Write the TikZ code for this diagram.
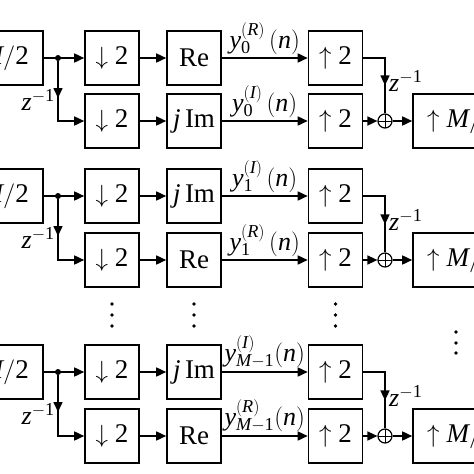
\documentclass[tikz,border=0pt]{standalone}
\usepackage{mathspec}
\setmainfont{Liberation Serif}
\setmathsfont(Digits,Latin){Liberation Serif}
\usetikzlibrary{arrows.meta,positioning,calc}

\begin{document}
\begin{tikzpicture}[x=1pt, y=-1pt,
    block/.style={rectangle, draw, line width=1.6pt, minimum width=54pt, minimum height=54pt, inner sep=0pt, font=\fontsize{27}{30}\selectfont},
    wideblock/.style={block, minimum width=96pt},
    outblock/.style={block, minimum width=96pt},
    adder/.style={circle, draw, line width=1.2pt, minimum size=14pt, inner sep=0pt,
        path picture={\draw[line width=1pt] (path picture bounding box.north) -- (path picture bounding box.south)
                      (path picture bounding box.west) -- (path picture bounding box.east);}},
    arrow/.style={line width=1.6pt, -{Triangle[length=10pt,width=9pt]}},
    wire/.style={line width=1.6pt},
    sig/.style={font=\fontsize{26}{30}\selectfont, inner sep=1pt},
    fork/.style={circle, fill, inner sep=0pt, minimum size=6pt}
]
\useasboundingbox (0,0) rectangle (474,474);
\clip (0,0) rectangle (474,474);

% Branch 0
\node[wideblock] (split0) at (-5,58) {$\downarrow M/2$};
\node[fork] (fork0) at (58,58) {};
\node[block] (down0a) at (112,58) {$\downarrow 2$};
\node[block] (down0b) at (112,121) {$\downarrow 2$};
\node[block] (part0a) at (194,58) {Re};
\node[block] (part0b) at (194,121) {$j$\,Im};
\node[block] (up0a) at (335.5,58) {$\uparrow 2$};
\node[block] (up0b) at (335.5,121) {$\uparrow 2$};
\node[adder] (sum0) at (385,121) {};
\node[outblock] (out0) at (461,121) {$\uparrow M/2$};

% Branch 1
\node[wideblock] (split1) at (-5,196) {$\downarrow M/2$};
\node[fork] (fork1) at (58,196) {};
\node[block] (down1a) at (112,196) {$\downarrow 2$};
\node[block] (down1b) at (112,260) {$\downarrow 2$};
\node[block] (part1a) at (194,196) {$j$\,Im};
\node[block] (part1b) at (194,260) {Re};
\node[block] (up1a) at (335.5,196) {$\uparrow 2$};
\node[block] (up1b) at (335.5,260) {$\uparrow 2$};
\node[adder] (sum1) at (385,260) {};
\node[outblock] (out1) at (461,260) {$\uparrow M/2$};

% Branch M-1
\node[wideblock] (split2) at (-5,372) {$\downarrow M/2$};
\node[fork] (fork2) at (58,372) {};
\node[block] (down2a) at (112,372) {$\downarrow 2$};
\node[block] (down2b) at (112,436) {$\downarrow 2$};
\node[block] (part2a) at (194,372) {$j$\,Im};
\node[block] (part2b) at (194,436) {Re};
\node[block] (up2a) at (335.5,372) {$\uparrow 2$};
\node[block] (up2b) at (335.5,436) {$\uparrow 2$};
\node[adder] (sum2) at (385,436) {};
\node[outblock] (out2) at (461,436) {$\uparrow M/2$};

% Polyphase split with delay
\draw[arrow] (split0) -- (down0a);
\draw[arrow] (fork0) |- (down0b);
\draw[arrow] (fork0) -- ++(0,40);
\node[sig, anchor=east] (zin0) at ($(fork0)+(-2,42)$) {$z^{-1}$};
\draw[arrow] (split1) -- (down1a);
\draw[arrow] (fork1) |- (down1b);
\draw[arrow] (fork1) -- ++(0,40);
\node[sig, anchor=east] (zin1) at ($(fork1)+(-2,42)$) {$z^{-1}$};
\draw[arrow] (split2) -- (down2a);
\draw[arrow] (fork2) |- (down2b);
\draw[arrow] (fork2) -- ++(0,40);
\node[sig, anchor=east] (zin2) at ($(fork2)+(-2,42)$) {$z^{-1}$};

% Real and imaginary parts
\draw[arrow] (down0a) -- (part0a);
\draw[arrow] (down0b) -- (part0b);
\draw[arrow] (part0a) -- node[sig, above=2pt] (y0a) {$y_0^{(R)}\,(n)$} (up0a);
\draw[arrow] (part0b) -- node[sig, above=2pt] (y0b) {$y_0^{(I)}\,(n)$} (up0b);
\draw[arrow] (down1a) -- (part1a);
\draw[arrow] (down1b) -- (part1b);
\draw[arrow] (part1a) -- node[sig, above=2pt] (y1a) {$y_1^{(I)}\,(n)$} (up1a);
\draw[arrow] (part1b) -- node[sig, above=2pt] (y1b) {$y_1^{(R)}\,(n)$} (up1b);
\draw[arrow] (down2a) -- (part2a);
\draw[arrow] (down2b) -- (part2b);
\draw[arrow] (part2a) -- node[sig, above=2pt] (y2a) {$y_{M-1}^{(I)}(n)$} (up2a);
\draw[arrow] (part2b) -- node[sig, above=2pt] (y2b) {$y_{M-1}^{(R)}(n)$} (up2b);

% Recombination
\draw[arrow] (up0a.east) -| ($(sum0.north)+(0,-28)$);
\draw[wire] (up0a.east -| sum0) -- (sum0.north);
\node[sig, anchor=west] (zout0) at ($(sum0.north)+(3,-32)$) {$z^{-1}$};
\draw[arrow] (up0b) -- (sum0);
\draw[arrow] (sum0) -- (out0);
\draw[arrow] (up1a.east) -| ($(sum1.north)+(0,-28)$);
\draw[wire] (up1a.east -| sum1) -- (sum1.north);
\node[sig, anchor=west] (zout1) at ($(sum1.north)+(3,-32)$) {$z^{-1}$};
\draw[arrow] (up1b) -- (sum1);
\draw[arrow] (sum1) -- (out1);
\draw[arrow] (up2a.east) -| ($(sum2.north)+(0,-28)$);
\draw[wire] (up2a.east -| sum2) -- (sum2.north);
\node[sig, anchor=west] (zout2) at ($(sum2.north)+(3,-32)$) {$z^{-1}$};
\draw[arrow] (up2b) -- (sum2);
\draw[arrow] (sum2) -- (out2);

% Vertical dots
\foreach \x in {112,194,335.5}
  \foreach \y in {304,315,326}
    \fill (\x,\y) circle (1.8pt);
\foreach \y in {332,343,353}
  \fill (456,\y) circle (1.8pt);

\end{tikzpicture}
\end{document}
